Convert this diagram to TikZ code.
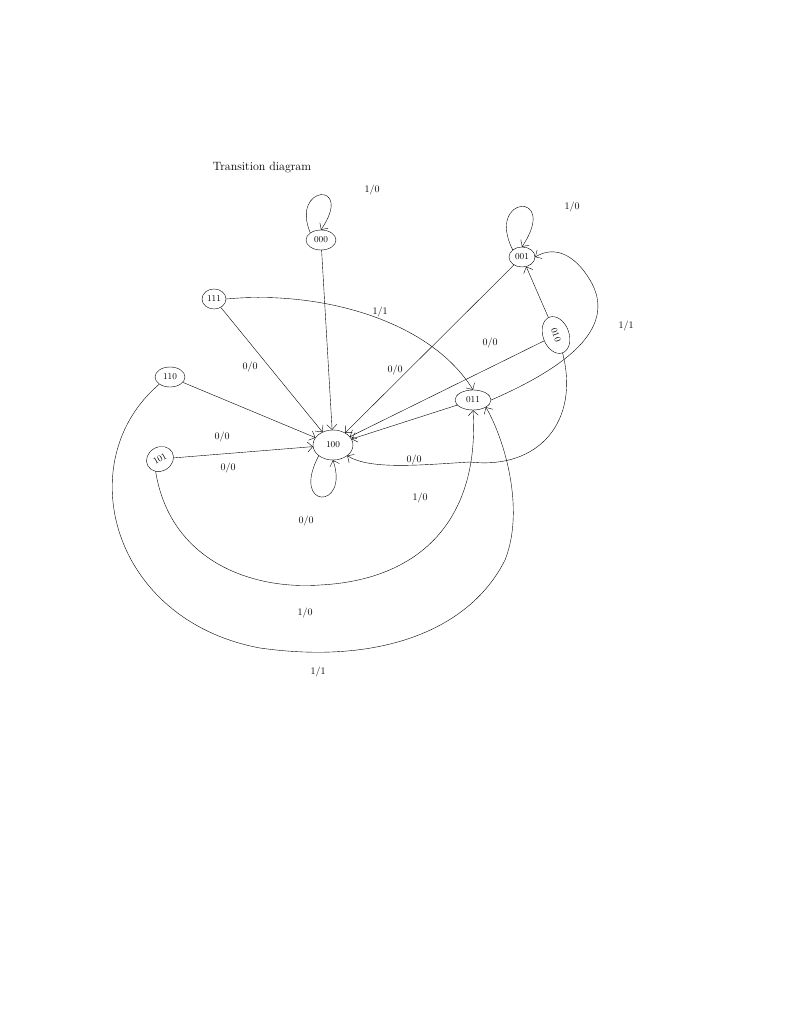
\documentclass[tikz,border=0pt]{standalone}
\usetikzlibrary{arrows.meta,shapes.geometric}
\begin{document}
\begin{tikzpicture}[x=1pt,y=-1pt,
  st/.style={draw,ellipse,minimum width=30pt,minimum height=20pt,inner sep=1pt,font=\small},
  arr/.style={-{Straight Barb[length=5pt]},thin},
  lab/.style={font=\normalsize}]
\useasboundingbox (0,0) rectangle (791,1024);
\node[st] (n000) at (321,240) {000};
\node[st,minimum width=26pt] (n001) at (522,257) {001};
\node[st,minimum width=24pt] (n111) at (214,299) {111};
\node[st,minimum width=38pt,minimum height=26pt,rotate=-70] (n010) at (556,335) {010};
\node[st] (n110) at (170,377) {110};
\node[st,minimum width=36pt] (n011) at (473,400) {011};
\node[st,minimum width=40pt,minimum height=30pt] (n100) at (333,445) {100};
\node[st,minimum width=28pt,minimum height=24pt,rotate=30] (n101) at (160,459) {101};
\node (title) at (262,168) {\large Transition diagram};
\draw[arr] (n000.north west) .. controls (290,185) and (355,180) .. (n000.north);
\node[lab] (l1) at (372,190) {1/0};
\draw[arr] (n001.north west) .. controls (485,195) and (560,190) .. (n001.north);
\node[lab] (l2) at (572,207) {1/0};
\draw[arr] (n000) -- (n100);
\draw[arr] (n111) -- (n100);
\node[lab] at (250,367) {0/0};
\draw[arr] (n111.east) .. controls (320,290) and (430,320) .. (n011.north);
\node[lab] at (380,312) {1/1};
\draw[arr] (n110) -- (n100);
\node[lab] at (222,437) {0/0};
\draw[arr] (n101) -- (n100);
\node[lab] at (228,468) {0/0};
\draw[arr] (n001) -- (n100);
\node[lab] at (395,370) {0/0};
\draw[arr] (n010) -- (n100);
\node[lab] at (490,343) {0/0};
\draw[arr] (n011) -- (n100);
\node[lab] at (414,460) {0/0};
\draw[arr] (n100.south west) .. controls (290,510) and (350,510) .. (n100.south);
\node[lab] at (306,521) {0/0};
\draw[arr] (n010) -- (n001);
\draw[arr] (n011.east) .. controls (560,370) and (620,330) .. (590,280) .. controls (575,255) and (555,245) .. (n001.east);
\node[lab] at (626,326) {1/1};
\draw[arr] (n010.east) .. controls (580,420) and (540,470) .. (470,462) .. controls (420,465) and (370,470) .. (n100.south east);
\node[lab] at (420,498) {1/0};
\draw[arr] (n101.south west) .. controls (170,560) and (250,590) .. (320,585) .. controls (420,580) and (480,520) .. (n011.south);
\node[lab] at (305,613) {1/0};
\draw[arr] (n110.south west) .. controls (70,460) and (110,620) .. (260,648) .. controls (380,665) and (470,630) .. (505,560) .. controls (525,510) and (505,440) .. (n011.south east);
\node[lab] at (318,672) {1/1};
\end{tikzpicture}
\end{document}
